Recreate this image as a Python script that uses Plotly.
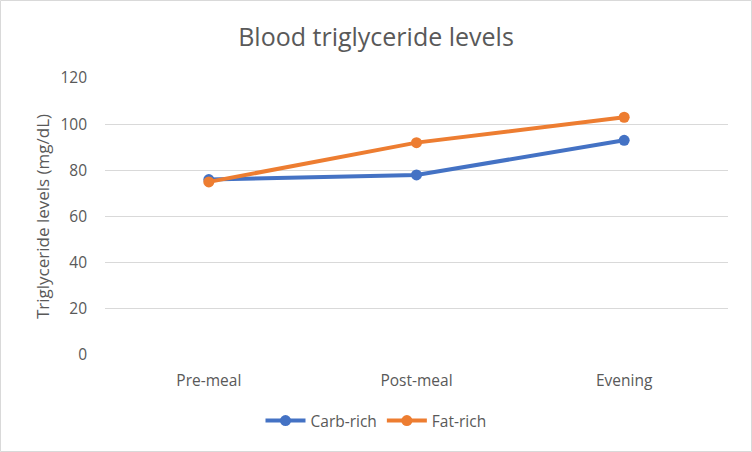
import plotly.graph_objects as go

# data
meals = ["Pre-meal", "Post-meal", "Evening"]
carb_rich = [76, 78, 93]
fat_rich = [75, 92, 103]
y_ticks = [0, 20, 40, 60, 80, 100, 120]

W, H = 752, 452
ML, MR, MT, MB = 105, 24, 78, 97
pw = W - ML - MR
ph = H - MT - MB

font = "Open Sans"
grey = "#595959"
tick_size = 15.5

fig = go.Figure()
fig.add_trace(
    go.Scatter(
        name="Carb-rich",
        x=meals,
        y=carb_rich,
        mode="lines+markers",
        line=dict(color="#4472C4", width=4),
        marker=dict(size=11, color="#4472C4"),
    )
)
fig.add_trace(
    go.Scatter(
        name="Fat-rich",
        x=meals,
        y=fat_rich,
        mode="lines+markers",
        line=dict(color="#ED7D31", width=4),
        marker=dict(size=11, color="#ED7D31"),
    )
)

# outer chart border, like the Excel chart area
fig.add_shape(
    type="rect",
    xref="paper",
    yref="paper",
    x0=(0.5 - ML) / pw,
    x1=(W - 0.5 - ML) / pw,
    y0=-(MB - 0.5) / ph,
    y1=1 + (MT - 0.5) / ph,
    line=dict(color="#d9d9d9", width=1),
    layer="below",
)

fig.update_layout(
    width=W,
    height=H,
    margin=dict(l=ML, r=MR, t=MT, b=MB),
    paper_bgcolor="white",
    plot_bgcolor="white",
    font=dict(family=font, color=grey, size=tick_size),
    title=dict(
        text="Blood triglyceride levels",
        x=0.5,
        xanchor="center",
        y=1 - 37 / H,
        yanchor="middle",
        font=dict(size=25, color=grey, family=font),
    ),
    showlegend=True,
    legend=dict(
        orientation="h",
        x=0.5,
        xanchor="center",
        xref="container",
        y=1 - 421 / H,
        yref="container",
        yanchor="middle",
        font=dict(size=tick_size, color=grey),
        itemwidth=40,
    ),
)
fig.update_xaxes(
    showgrid=False,
    showline=False,
    ticks="",
    ticklabelstandoff=14,
    tickfont=dict(size=tick_size, color=grey),
    range=[-0.5, 2.5],
)
fig.update_yaxes(
    range=[0, 120],
    tickvals=y_ticks,
    showgrid=True,
    gridcolor="#d9d9d9",
    gridwidth=1,
    zeroline=False,
    showline=False,
    ticks="",
    ticklabelstandoff=17,
    tickfont=dict(size=tick_size, color=grey),
    title=dict(
        text="Triglyceride levels (mg/dL)",
        font=dict(size=17, color=grey),
        standoff=6,
    ),
)

# drop the browser's default 8px page margin so the chart sits at 0,0
fig.write_html(
    "out.html",
    config={"displayModeBar": False},
    post_script="document.body.style.margin='0';",
)
